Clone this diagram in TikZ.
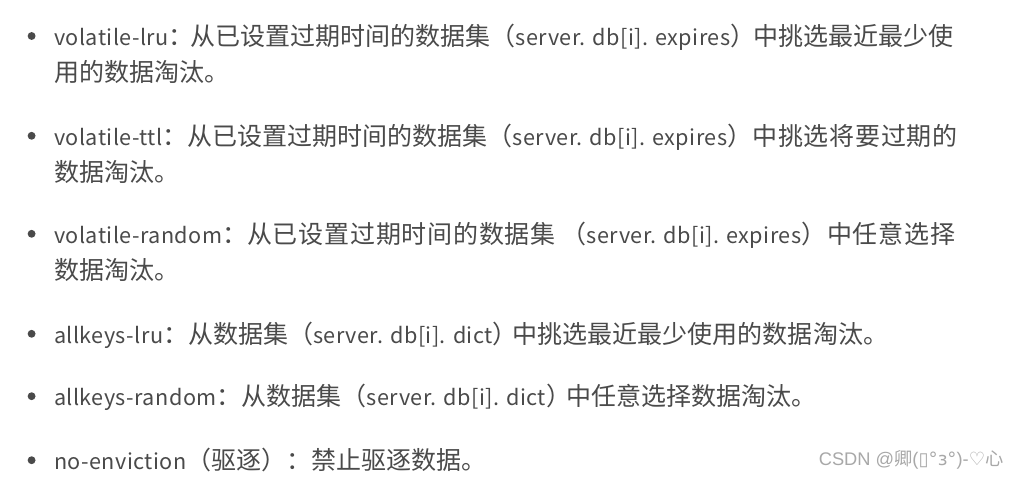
\documentclass[tikz,border=0pt]{standalone}
\usepackage{xcolor}
\usepackage{fontspec}
\setmainfont{Noto Sans CJK SC}
\newfontfamily\latinfont[Scale=0.865,LetterSpace=2]{Noto Sans CJK SC}
\newfontfamily\widefont[LetterSpace=3]{Noto Sans CJK SC}
\newfontfamily\markfont{Liberation Sans}
\newfontfamily\markcjk{Noto Sans CJK SC}
\newfontfamily\marksym{DejaVu Sans}
\newcommand{\en}[1]{{\latinfont #1}}
\definecolor{textgray}{HTML}{4A4A4A}
\definecolor{markgray}{HTML}{A8A8A8}
\tikzset{
    entry/.style={anchor=base west,inner sep=0pt,outer sep=0pt,color=textgray,font=\fontsize{17.8pt}{20pt}\selectfont},
    watermark/.style={anchor=base west,inner sep=0pt,outer sep=0pt,color=markgray,font=\fontsize{13pt}{15pt}\markfont}
}

\begin{document}
\begin{tikzpicture}
                \useasboundingbox (0,0) rectangle (25.425,12.025);
                \fill[white] (0,0) rectangle (25.425,12.025);

                \fill [color=textgray] (0.79,11.125) circle (2.8pt);
                \node[entry] (lruA) at (1.35,10.9) {\en{volatile-lru}：\hspace{-0.08cm}从已设置过期时间的数据集（\en{server. db[i]. expires}）\hspace{-0.05cm}中挑选最近最少使};
                \node[entry] (lruB) at (1.35,9.98) {用的数据淘汰。};

                \fill [color=textgray] (0.79,8.63) circle (2.8pt);
                \node[entry] (ttlA) at (1.35,8.4) {\en{volatile-ttl}：从已设置过期时间的数据集（\en{server. db[i]. expires}）{\widefont 中挑选将要过期的}};
                \node[entry] (ttlB) at (1.35,7.48) {数据淘汰。};

                \fill [color=textgray] (0.79,6.18) circle (2.8pt);
                \node[entry] (randomA) at (1.35,5.93) {\en{volatile-random}：{\widefont 从已设置过期时间的数据集}\hspace{0.15cm}（\en{server. db[i]. expires}）\hspace{0.02cm}{\widefont 中任意选择}};
                \node[entry] (randomB) at (1.35,5.03) {数据淘汰。};

                \fill [color=textgray] (0.79,3.68) circle (2.8pt);
                \node[entry] (allA) at (1.35,3.45) {\en{allkeys-lru}：从数据集（\en{server. db[i]. dict}）\hspace{-0.125cm}中挑选最近最少使用的数据淘汰。};

                \fill [color=textgray] (0.79,2.12) circle (2.8pt);
                \node[entry] (allB) at (1.35,1.88) {\en{allkeys-random}：从数据集（\en{server. db[i]. dict}）\hspace{-0.125cm}中任意选择数据淘汰。};

                \fill [color=textgray] (0.79,0.52) circle (2.8pt);
                \node[entry] (none) at (1.35,0.28) {\en{no-enviction}（驱逐）：禁止驱逐数据。};

                \node[watermark] (mark) at (20.47,0.38) {CSDN @{\markcjk 卿}({\marksym ▯°з°})-{\marksym ♡}{\markcjk 心}};
            \end{tikzpicture}
\end{document}
